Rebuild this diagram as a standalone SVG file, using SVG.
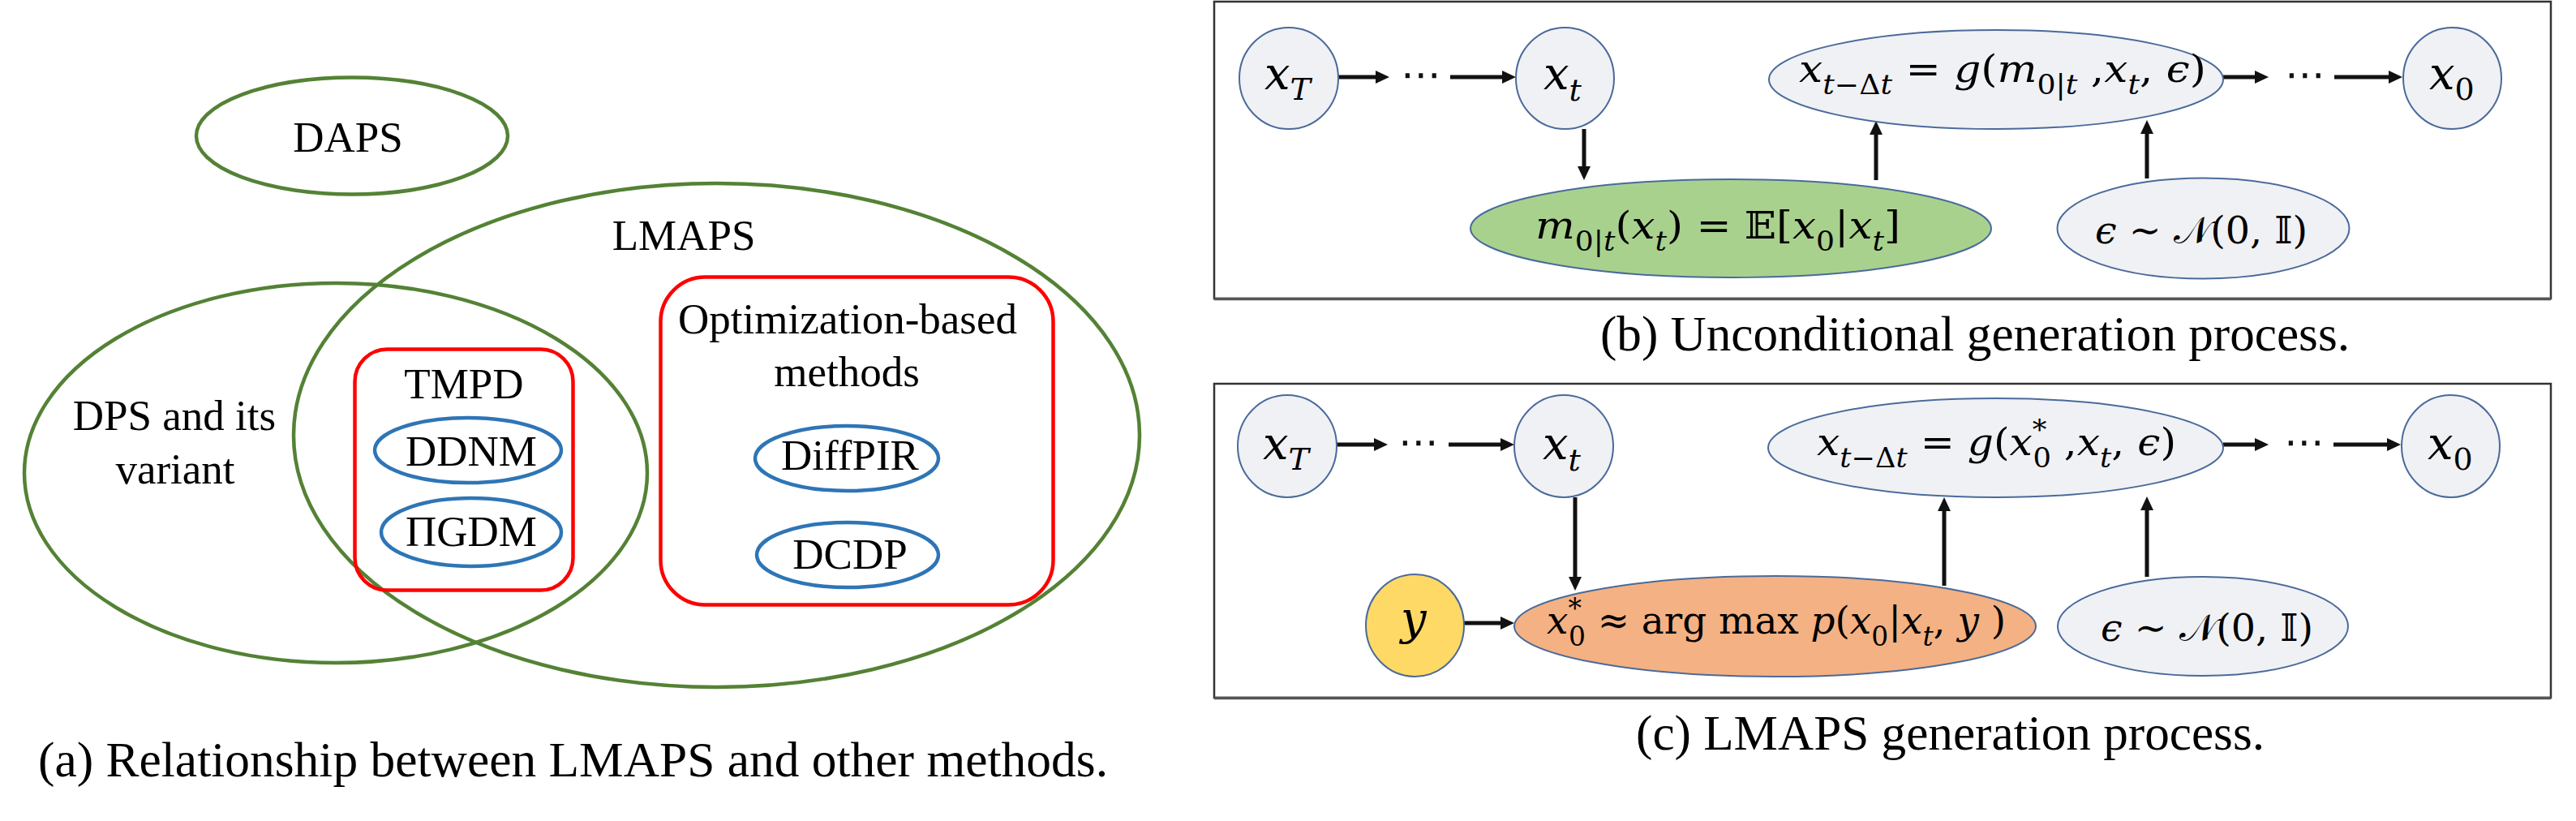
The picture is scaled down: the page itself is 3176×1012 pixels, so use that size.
<svg xmlns="http://www.w3.org/2000/svg" width="3176" height="1012" viewBox="0 0 3176 1012">
<style>
.g{fill:none;stroke:#548235;stroke-width:4.5}
.r{fill:none;stroke:#FF0000;stroke-width:4.5}
.bl{fill:none;stroke:#2E75B6;stroke-width:4.5}
.lbl{font-family:"Liberation Serif","Times New Roman",serif;font-size:53px;fill:#000;text-anchor:middle}
.cap{font-family:"Liberation Serif","Times New Roman",serif;font-size:61px;fill:#000}
.nd{fill:#F0F1F4;stroke:#4A6A9B;stroke-width:2}
.gr{fill:#A9D18E;stroke:#4A6A9B;stroke-width:2}
.or{fill:#F4B183;stroke:#4A6A9B;stroke-width:2}
.ye{fill:#FFD966;stroke:#4A6A9B;stroke-width:2}
.m{font-family:"DejaVu Serif",serif;fill:#000}
.i{font-style:italic}
.big{font-size:56px}
.f{font-size:47px}
.dots{font-family:"DejaVu Sans",sans-serif;font-size:50px;fill:#111}
.frame{fill:none;stroke:#333;stroke-width:2.5}
.arr{fill:none;stroke:#111;stroke-width:5;marker-end:url(#ah)}
</style>
<defs>
<marker id="ah" markerUnits="userSpaceOnUse" markerWidth="17" markerHeight="16" viewBox="0 0 17 16" refX="9" refY="8" orient="auto"><path d="M0,0 L17,8 L0,16 z" fill="#111"/></marker>
</defs>
<rect x="0" y="0" width="3176" height="1012" fill="#fff"/>

<!-- Panel (a) -->
<g id="daps"><ellipse class="g" cx="434" cy="167.5" rx="192" ry="72"/><text class="lbl" x="429" y="187">DAPS</text></g>
<g id="lmaps"><ellipse class="g" cx="883.5" cy="536.5" rx="521.5" ry="310.5"/><text class="lbl" x="843" y="308">LMAPS</text></g>
<g id="dps"><ellipse class="g" cx="414" cy="583" rx="384" ry="234"/><text class="lbl" x="215" y="530">DPS and its</text><text class="lbl" x="216" y="596">variant</text></g>
<g id="tmpd"><rect class="r" x="437.5" y="430.5" width="269" height="297" rx="40"/><text class="lbl" x="572" y="491">TMPD</text></g>
<g id="ddnm"><ellipse class="bl" cx="577" cy="555" rx="115" ry="40"/><text class="lbl" x="581" y="574">DDNM</text></g>
<g id="pigdm"><ellipse class="bl" cx="581" cy="656" rx="111" ry="42"/><text class="lbl" x="581" y="673">ΠGDM</text></g>
<g id="optim"><rect class="r" x="814.5" y="341.5" width="484" height="404" rx="55"/><text class="lbl" x="1045" y="411">Optimization-based</text><text class="lbl" x="1044" y="476">methods</text></g>
<g id="diffpir"><ellipse class="bl" cx="1044" cy="565" rx="113" ry="40"/><text class="lbl" x="1048" y="579">DiffPIR</text></g>
<g id="dcdp"><ellipse class="bl" cx="1045" cy="684" rx="112" ry="40"/><text class="lbl" x="1048" y="701">DCDP</text></g>
<text class="cap" x="47" y="957" textLength="1319" lengthAdjust="spacingAndGlyphs">(a) Relationship between LMAPS and other methods.</text>

<!-- Panel (b) -->
<rect class="frame" x="1497" y="2" width="1648" height="366"/>
<line x1="1497" y1="368.5" x2="3145" y2="368.5" stroke="#555" stroke-width="3.5"/>
<g id="b-connectors">
<path class="arr" d="M1650,95 H1705"/>
<path class="arr" d="M1788,95 H1861"/>
<path class="arr" d="M2741,95 H2789"/>
<path class="arr" d="M2878,95 H2954"/>
<path class="arr" d="M1953,159 V214"/>
<path class="arr" d="M2313,222 V157"/>
<path class="arr" d="M2647,220 V156"/>
</g>
<g id="b-xT"><ellipse class="nd" cx="1589" cy="96.5" rx="61" ry="62.5"/><text class="m big" x="1559" y="110"><tspan class="i">x</tspan><tspan class="i" font-size="38" dy="13">T</tspan></text></g>
<g id="b-dots1"><text class="dots" x="1727" y="109">⋯</text></g>
<g id="b-xt"><ellipse class="nd" cx="1929.5" cy="96.5" rx="60.5" ry="62.5"/><text class="m big" x="1903" y="110"><tspan class="i">x</tspan><tspan class="i" font-size="38" dy="14">t</tspan></text></g>
<g id="b-update"><ellipse class="nd" cx="2461" cy="98" rx="280" ry="61"/><text class="m f" x="2218" y="101" textLength="502" lengthAdjust="spacingAndGlyphs"><tspan class="i">x</tspan><tspan font-size="33" dy="15"><tspan class="i">t</tspan>−Δ<tspan class="i">t</tspan></tspan><tspan dy="-15"> = </tspan><tspan class="i">g</tspan>(<tspan class="i">m</tspan><tspan font-size="33" dy="15">0|<tspan class="i">t</tspan></tspan><tspan dy="-15"> ,</tspan><tspan class="i">x</tspan><tspan class="i" font-size="33" dy="15">t</tspan><tspan dy="-15">, </tspan><tspan class="i">ϵ</tspan>)</text></g>
<g id="b-dots2"><text class="dots" x="2817" y="109">⋯</text></g>
<g id="b-x0"><ellipse class="nd" cx="3023.5" cy="96.5" rx="60.5" ry="62.5"/><text class="m big" x="2995" y="110"><tspan class="i">x</tspan><tspan font-size="38" dy="13">0</tspan></text></g>
<g id="b-mean"><ellipse class="gr" cx="2134" cy="281.5" rx="321" ry="60.5"/><text class="m f" x="1893" y="294" textLength="450" lengthAdjust="spacingAndGlyphs"><tspan class="i">m</tspan><tspan font-size="33" dy="15">0|<tspan class="i">t</tspan></tspan><tspan dy="-15">(</tspan><tspan class="i">x</tspan><tspan class="i" font-size="33" dy="15">t</tspan><tspan dy="-15">) = 𝔼[</tspan><tspan class="i">x</tspan><tspan font-size="33" dy="15">0</tspan><tspan dy="-15">|</tspan><tspan class="i">x</tspan><tspan class="i" font-size="33" dy="15">t</tspan><tspan dy="-15">]</tspan></text></g>
<g id="b-eps"><ellipse class="nd" cx="2716.5" cy="281.5" rx="180" ry="62"/><text class="m f" x="2583" y="300" textLength="262" lengthAdjust="spacingAndGlyphs"><tspan class="i">ϵ</tspan> ∼ 𝒩(0, 𝕀)</text></g>
<text class="cap" x="1973" y="432" textLength="924" lengthAdjust="spacingAndGlyphs">(b) Unconditional generation process.</text>

<!-- Panel (c) -->
<rect class="frame" x="1497" y="473" width="1648" height="387"/>
<line x1="1497" y1="860.5" x2="3145" y2="860.5" stroke="#555" stroke-width="3.5"/>
<g id="c-connectors">
<path class="arr" d="M1648,548 H1703"/>
<path class="arr" d="M1786,548 H1859"/>
<path class="arr" d="M2741,548 H2789"/>
<path class="arr" d="M2877,548 H2952"/>
<path class="arr" d="M1942,613 V720"/>
<path class="arr" d="M1805,768 H1859"/>
<path class="arr" d="M2397,722 V621"/>
<path class="arr" d="M2647,711 V620"/>
</g>
<g id="c-xT"><ellipse class="nd" cx="1587" cy="550" rx="61" ry="63"/><text class="m big" x="1557" y="566"><tspan class="i">x</tspan><tspan class="i" font-size="38" dy="13">T</tspan></text></g>
<g id="c-dots1"><text class="dots" x="1724" y="562">⋯</text></g>
<g id="c-xt"><ellipse class="nd" cx="1928" cy="550" rx="61" ry="63"/><text class="m big" x="1902" y="566"><tspan class="i">x</tspan><tspan class="i" font-size="38" dy="14">t</tspan></text></g>
<g id="c-update"><ellipse class="nd" cx="2460.5" cy="552" rx="280.5" ry="61"/><text class="m f" x="2240" y="561" textLength="443" lengthAdjust="spacingAndGlyphs"><tspan class="i">x</tspan><tspan font-size="33" dy="15"><tspan class="i">t</tspan>−Δ<tspan class="i">t</tspan></tspan><tspan dy="-15"> = </tspan><tspan class="i">g</tspan>(<tspan class="i">x</tspan><tspan font-size="33" dy="-20">*</tspan><tspan font-size="33" dx="-16" dy="35">0</tspan><tspan dy="-15"> ,</tspan><tspan class="i">x</tspan><tspan class="i" font-size="33" dy="15">t</tspan><tspan dy="-15">, </tspan><tspan class="i">ϵ</tspan>)</text></g>
<g id="c-dots2"><text class="dots" x="2816" y="562">⋯</text></g>
<g id="c-x0"><ellipse class="nd" cx="3021.5" cy="550" rx="60.5" ry="63"/><text class="m big" x="2993" y="566"><tspan class="i">x</tspan><tspan font-size="38" dy="13">0</tspan></text></g>
<g id="c-y"><ellipse class="ye" cx="1744.5" cy="771" rx="60.5" ry="63"/><text class="m big i" x="1727" y="782">y</text></g>
<g id="c-map"><ellipse class="or" cx="2188.5" cy="772" rx="321.5" ry="62"/><text class="m f" x="1907" y="781" textLength="566" lengthAdjust="spacingAndGlyphs"><tspan class="i">x</tspan><tspan font-size="33" dy="-20">*</tspan><tspan font-size="33" dx="-16" dy="35">0</tspan><tspan dy="-15"> ≈ arg max </tspan><tspan class="i">p</tspan>(<tspan class="i">x</tspan><tspan font-size="33" dy="15">0</tspan><tspan dy="-15">|</tspan><tspan class="i">x</tspan><tspan class="i" font-size="33" dy="15">t</tspan><tspan dy="-15">, </tspan><tspan class="i">y</tspan> )</text></g>
<g id="c-eps"><ellipse class="nd" cx="2716" cy="772" rx="179" ry="61"/><text class="m f" x="2590" y="790" textLength="262" lengthAdjust="spacingAndGlyphs"><tspan class="i">ϵ</tspan> ∼ 𝒩(0, 𝕀)</text></g>
<text class="cap" x="2017" y="924" textLength="775" lengthAdjust="spacingAndGlyphs">(c) LMAPS generation process.</text>
</svg>
